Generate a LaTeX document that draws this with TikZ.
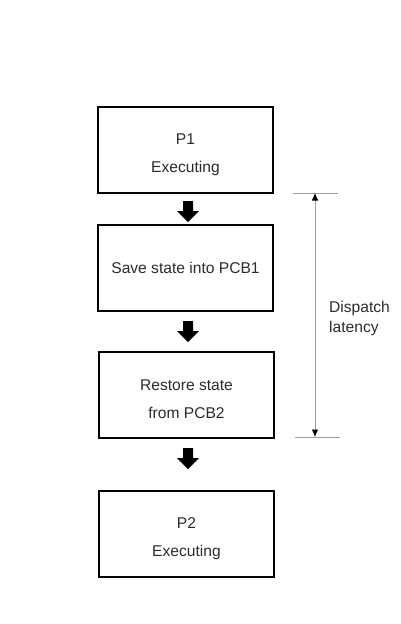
\documentclass[tikz,border=0pt]{standalone}
\usepackage{fontspec}
\setmainfont{Liberation Sans}
\usetikzlibrary{arrows.meta}
\definecolor{txt}{rgb}{0.17,0.17,0.17}
\definecolor{dimline}{rgb}{0.62,0.62,0.62}
\newcommand\lowerstrut{\rule{0pt}{20.5pt}}
\tikzset{
  procbox/.style={draw=black, line width=2pt, minimum width=175pt, minimum height=86pt,
    inner sep=0pt, align=center, text=txt, font=\fontsize{15.6}{28.5}\selectfont},
  dimtext/.style={anchor=west, align=left, text=txt, inner sep=0pt, font=\fontsize{15.6}{20}\selectfont},
  dimtick/.style={draw=dimline, line width=0.8pt},
  dimarrow/.style={draw=dimline, line width=0.8pt, {Latex[black,length=7.5pt,width=6.5pt]}-{Latex[black,length=7.5pt,width=6.5pt]}},
  fatarrow/.style={fill=black}
}
\begin{document}
\begin{tikzpicture}[x=1pt,y=-1pt]
\useasboundingbox (0,0) rectangle (400,624);
\node[procbox] (b1) at (185.5,150) {\lowerstrut P1\\Executing};
\node[procbox] (b2) at (185.5,267.5) {Save state into PCB1};
\node[procbox] (b3) at (186.5,394.5) {\lowerstrut Restore state\\from PCB2};
\node[procbox] (b4) at (186.5,534) {\lowerstrut P2\\Executing};
% fat arrows between boxes
\coordinate (a1) at (188,211);
\coordinate (a2) at (188,331);
\coordinate (a3) at (188,458);
\foreach \a in {a1,a2,a3}{
  \fill[fatarrow] (\a) +(-5,-10) -- +(5,-10) -- +(5,0) -- +(11,0) -- +(0,11) -- +(-11,0) -- +(-5,0) -- cycle;
}
% dispatch latency dimension
\coordinate (dt) at (315,193);
\coordinate (db) at (315,437);
\draw[dimtick] (293,193) -- (338,193);
\draw[dimtick] (295,437) -- (340,437);
\draw[dimarrow] (dt) -- (db);
\node[dimtext] (dl) at (329,318) {Dispatch\\latency};
\end{tikzpicture}
\end{document}
